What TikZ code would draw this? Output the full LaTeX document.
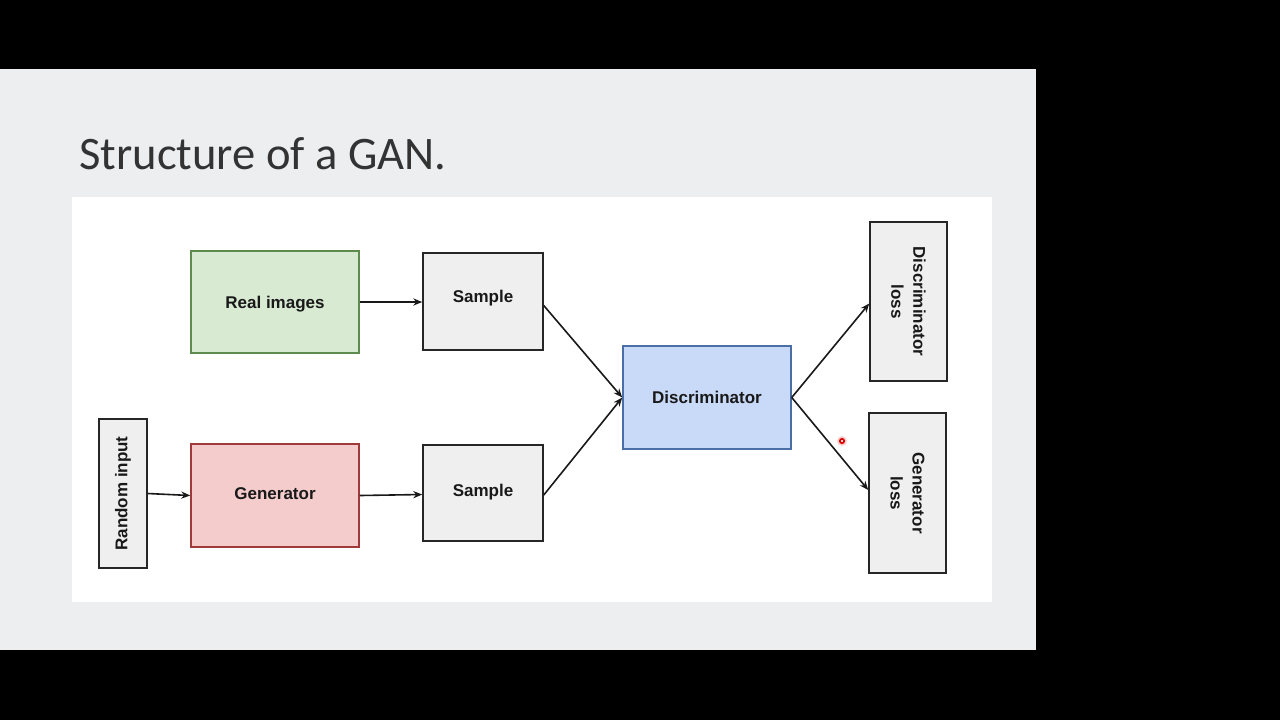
\documentclass[tikz,border=0pt]{standalone}
\usepackage{fontspec}
\setmainfont{Liberation Sans}
\newfontfamily\titlefont{Carlito}
\usetikzlibrary{arrows.meta,fit}
\definecolor{slidebg}{HTML}{ECEEF0}
\definecolor{grayfill}{HTML}{EFEFEF}
\definecolor{greenfill}{HTML}{D9EAD3}
\definecolor{greenline}{HTML}{5E8C4E}
\definecolor{redfill}{HTML}{F4CCCC}
\definecolor{redline}{HTML}{A03A3A}
\definecolor{bluefill}{HTML}{C9DAF8}
\definecolor{blueline}{HTML}{4A6FA5}
\tikzset{
  box/.style={draw=black!85, fill=grayfill, line width=0.75pt, inner sep=0pt},
  greenbox/.style={box, draw=greenline, fill=greenfill},
  redbox/.style={box, draw=redline, fill=redfill},
  bluebox/.style={box, draw=blueline, fill=bluefill},
  lbl/.style={font=\fontsize{8.5pt}{11pt}\selectfont\bfseries, text=black!90, inner sep=0pt},
  conn/.style={line width=0.8pt, black!90, -{Stealth[length=4.5pt,width=3.6pt]}}
}
\begin{document}
\begin{tikzpicture}[x=0.5pt,y=-0.5pt]
\useasboundingbox (0,0) rectangle (1280,720);
\fill[black] (0,0) rectangle (1280,720);
\fill[slidebg] (0,69) rectangle (1036,650);
\fill[white] (72,197) rectangle (992,602);
\node[anchor=base west, inner sep=0pt, font=\titlefont\fontsize{23.3pt}{28pt}\selectfont, text=black!80] (title) at (79,169) {Structure of a GAN.};

\node[greenbox, fit={(191,251)(359,353)}] (real) {};
\node[lbl] at ([yshift=-1pt]real.center) {Real images};
\node[redbox, fit={(191,444)(359,547)}] (gen) {};
\node[lbl] at ([yshift=1pt]gen.center) {Generator};
\node[box, fit={(99,419)(147,568)}] (rand) {};
\node[lbl, rotate=90] at (rand.center) {Random input};
\node[box, fit={(423,253)(543,350)}] (s1) {};
\node[lbl] at ([yshift=1.5pt]s1.center) {Sample};
\node[box, fit={(423,445)(543,541)}] (s2) {};
\node[lbl] at ([yshift=0.5pt]s2.center) {Sample};
\node[bluebox, fit={(623,346)(791,449)}] (disc) {};
\node[lbl] at (disc.center) {Discriminator};
\node[box, fit={(870,222)(947,381)}] (dloss) {};
\node[lbl, rotate=-90, align=center] at (dloss.center) {Discriminator\\loss};
\node[box, fit={(869,413)(946,573)}] (gloss) {};
\node[lbl, rotate=-90, align=center] at (gloss.center) {Generator\\loss};

\draw[conn] (rand.east) -- (gen.west);
\draw[conn] (real.east) -- (s1.west |- real.east);
\draw[conn] (gen.east) -- ([yshift=0.5pt]s2.west |- gen.east);
\draw[conn] ([yshift=-2pt]s1.east) -- (disc.west);
\draw[conn] ([yshift=-1pt]s2.east) -- (disc.west);
\draw[conn] (disc.east) -- ([yshift=-1pt]dloss.west);
\draw[conn] (disc.east) -- ([yshift=1pt]gloss.west |- 0,492);

\fill[red!25, opacity=0.7] (842,441) circle (5);
\draw[red!85!black, line width=0.8pt] (842,441) circle (2.2);
\end{tikzpicture}
\end{document}
